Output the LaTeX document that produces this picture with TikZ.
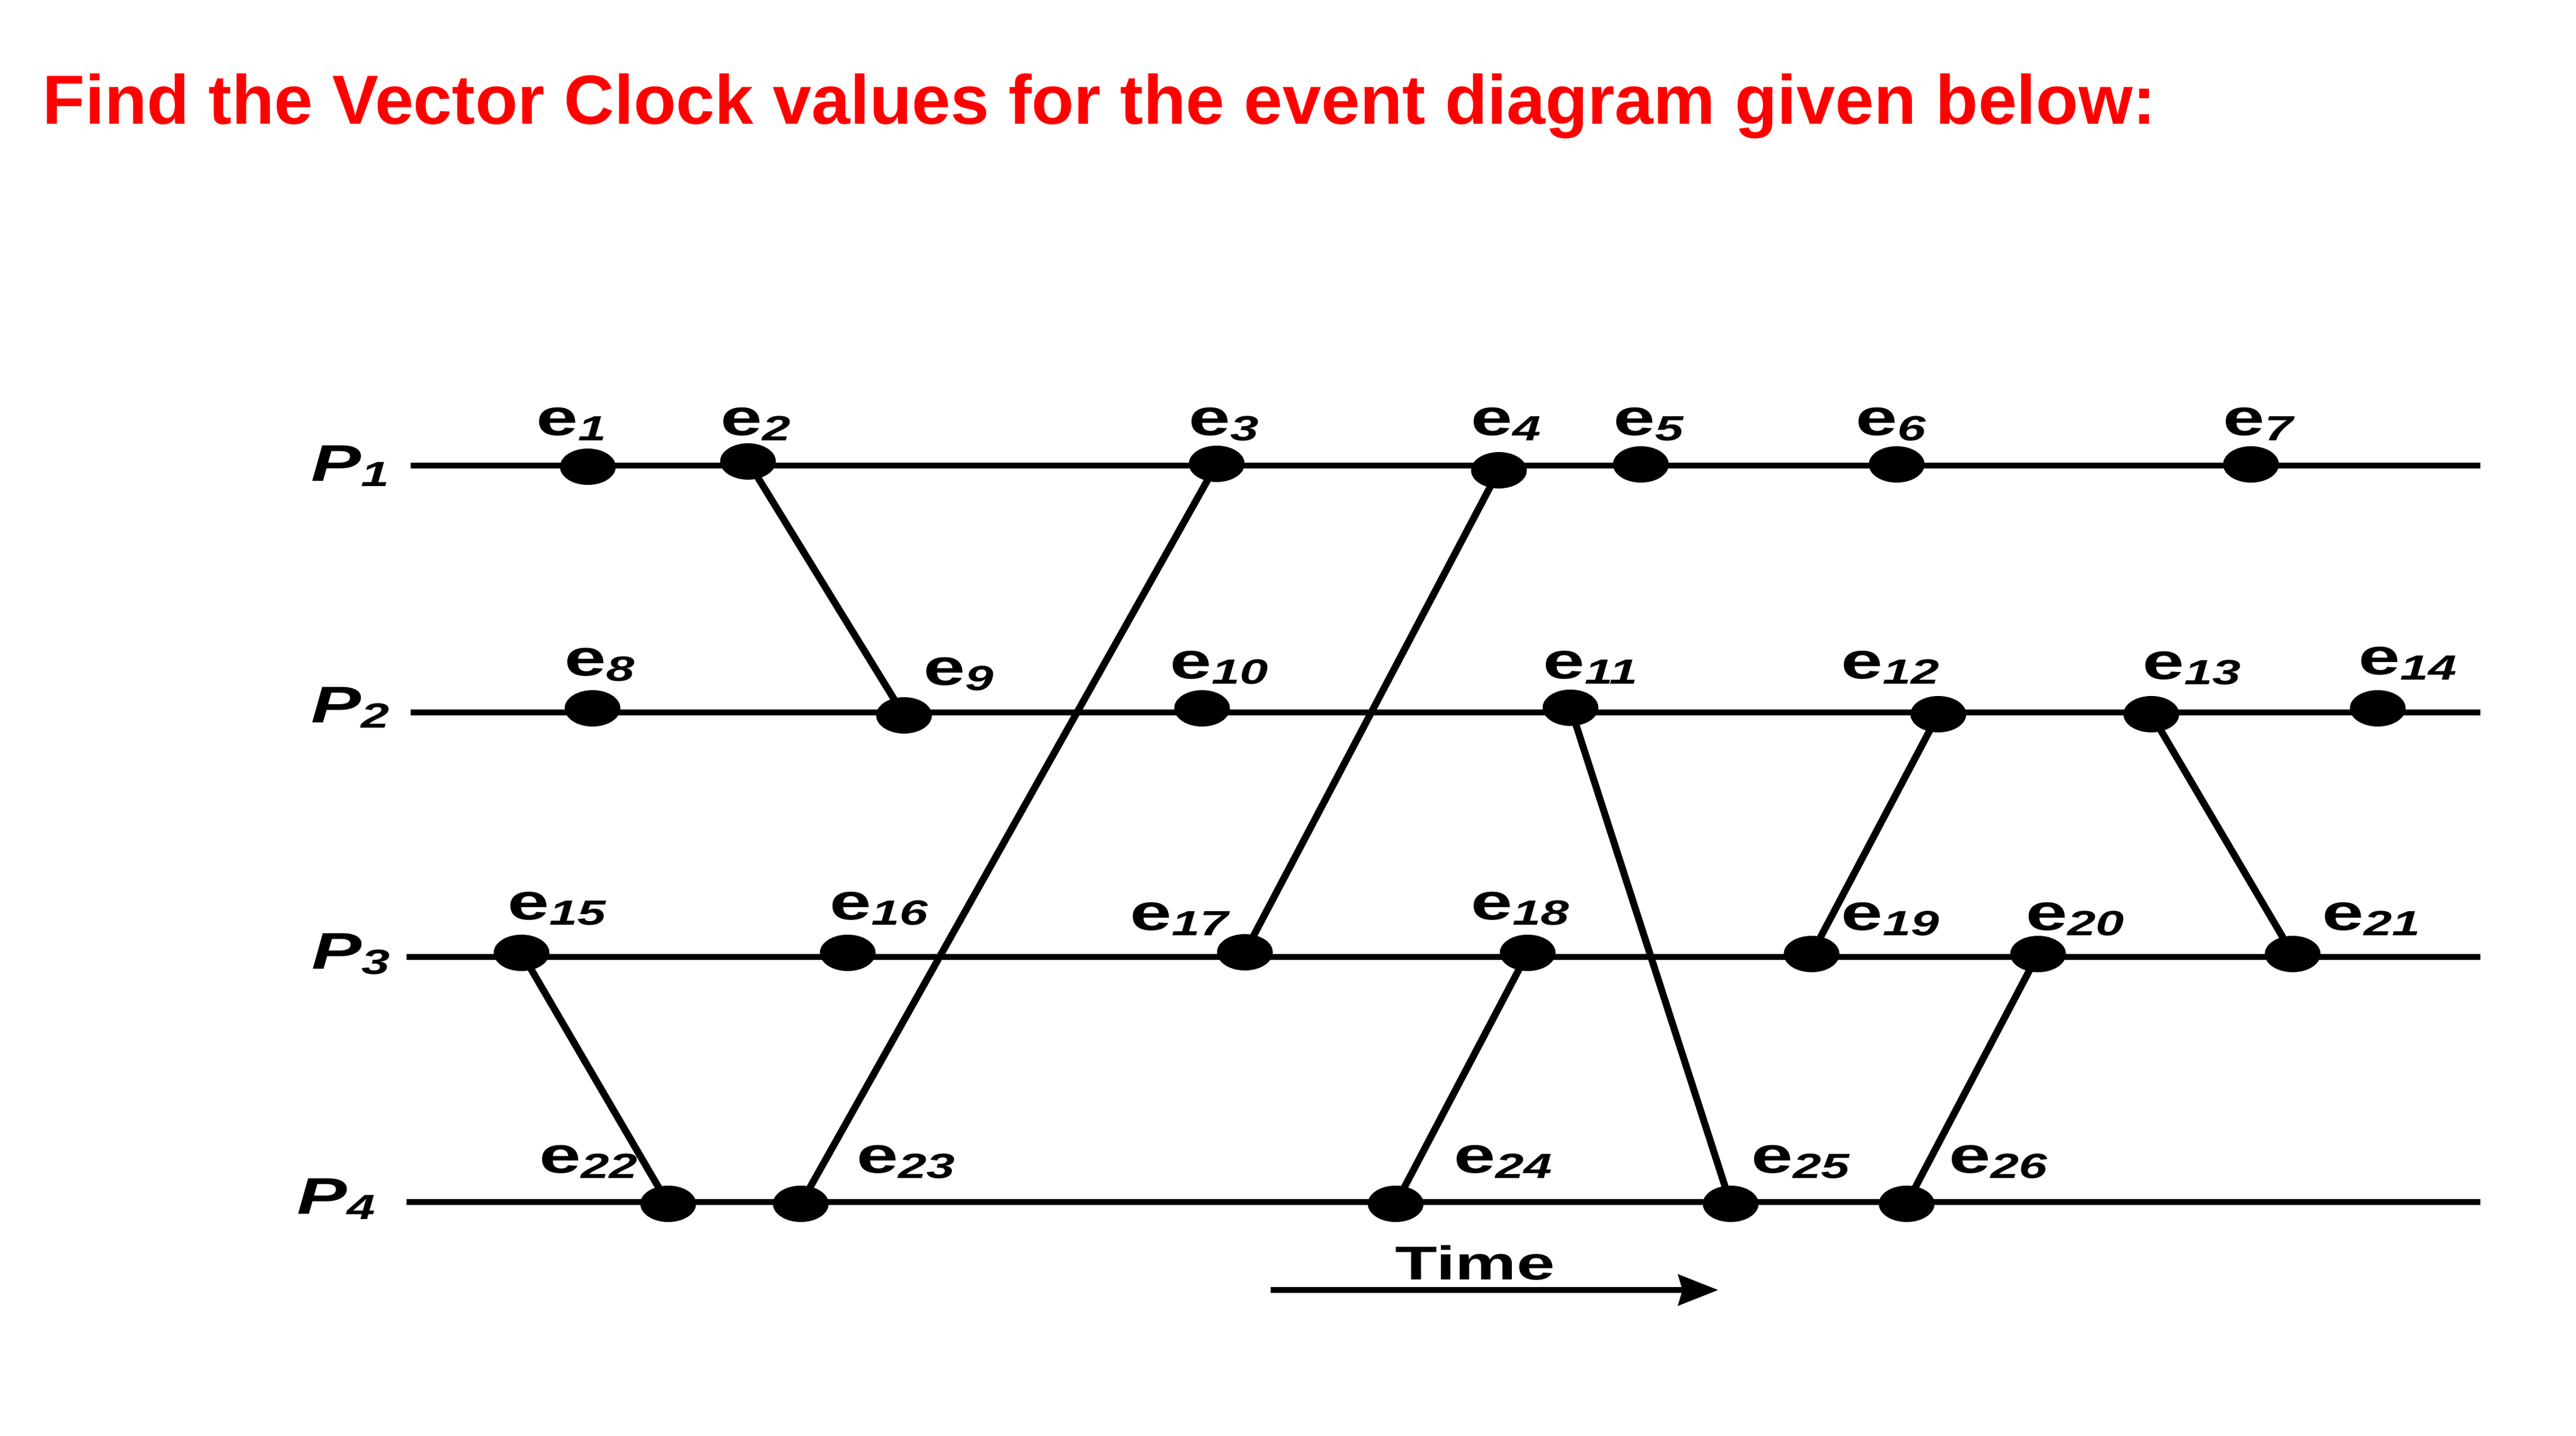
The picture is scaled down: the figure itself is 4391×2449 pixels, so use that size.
\documentclass[tikz,border=0pt]{standalone}
\usepackage{fontspec}
\usepackage{tikz}
\setmainfont{Liberation Sans}
\newfontfamily\diagfont[FakeStretch=1.45]{Liberation Sans}
\newcommand{\evlab}[2]{\fontsize{25}{25}\selectfont\bfseries #1\fontsize{17}{17}\selectfont\itshape\raisebox{-0.09cm}{#2}}
\usetikzlibrary{shapes.geometric, arrows.meta, positioning}
\tikzstyle{heading} = [anchor=base west, inner sep=0pt, text=red, font=\fontsize{33.7}{33.7}\selectfont\bfseries]
\tikzstyle{event} = [ellipse, fill=black, inner sep=0pt, minimum width=0.95cm, minimum height=0.62cm]
\tikzstyle{evlabel} = [anchor=base west, inner sep=0pt, font=\diagfont]
\tikzstyle{procline} = [line width=2.7pt]
\tikzstyle{message} = [line width=3.4pt]

\begin{document}
\begin{tikzpicture}[x=0.01cm, y=-0.01cm]
	\useasboundingbox (0,0) rectangle (4391,2449);
	\node[heading] (title) at (72,212) {Find the Vector Clock values for the event diagram given below:};
	% processes
	\foreach \i/\xs/\y/\lx/\ly in {1/700/794/530/820, 2/700/1215/530/1232, 3/693/1632/531/1652, 4/693/2050/506/2070}{
		\coordinate (p\i s) at (\xs,\y);
		\coordinate (p\i e) at (4228,\y);
		\draw[procline] (p\i s) -- (p\i e);
		\node[evlabel] (P\i) at (\lx,\ly) {\evlab{\itshape P}{\i}};
	}
	% events
	\foreach \n/\x/\y/\lx/\ly in {1/1002/796/914/742, 2/1275/787/1228/742, 3/2074/791/2026/742,
		4/2555/802/2507/742, 5/2797/792/2750/742, 6/3233/792/3163/742, 7/3837/792/3789/742,
		8/1010/1208/962/1152, 9/1541/1220/1574/1168, 10/2049/1208/1994/1157, 11/2677/1207/2630/1157,
		12/3304/1218/3138/1157, 13/3667/1218/3652/1158, 14/4053/1208/4020/1150,
		15/889/1625/865/1568, 16/1445/1625/1414/1568, 17/2122/1624/1926/1586, 18/2604/1625/2507/1568,
		19/3088/1627/3138/1586, 20/3474/1627/3453/1586, 21/3908/1627/3958/1586,
		22/1139/2053/919/2000, 23/1365/2053/1460/2000, 24/2379/2053/2478/2000,
		25/2950/2053/2985/2000, 26/3250/2053/3322/2000}{
		\node[event] (e\n) at (\x,\y) {};
		\node[evlabel] (l\n) at (\lx,\ly) {\evlab{e}{\n}};
	}
	% messages
	\foreach \a/\b in {2/9, 23/3, 17/4, 11/25, 24/18, 12/19, 26/20, 13/21, 15/22}
		\draw[message] (e\a.center) -- (e\b.center);
	% time axis
	\coordinate (tstart) at (2166,2200);
	\coordinate (tend) at (2929,2200);
	\draw[line width=3pt, -{Stealth[length=0.68cm, width=0.52cm, inset=0.07cm]}] (tstart) -- (tend);
	\node[evlabel, font=\diagfont\fontsize{23}{23}\selectfont\bfseries] (time) at (2378,2182) {Time};
\end{tikzpicture}
\end{document}
